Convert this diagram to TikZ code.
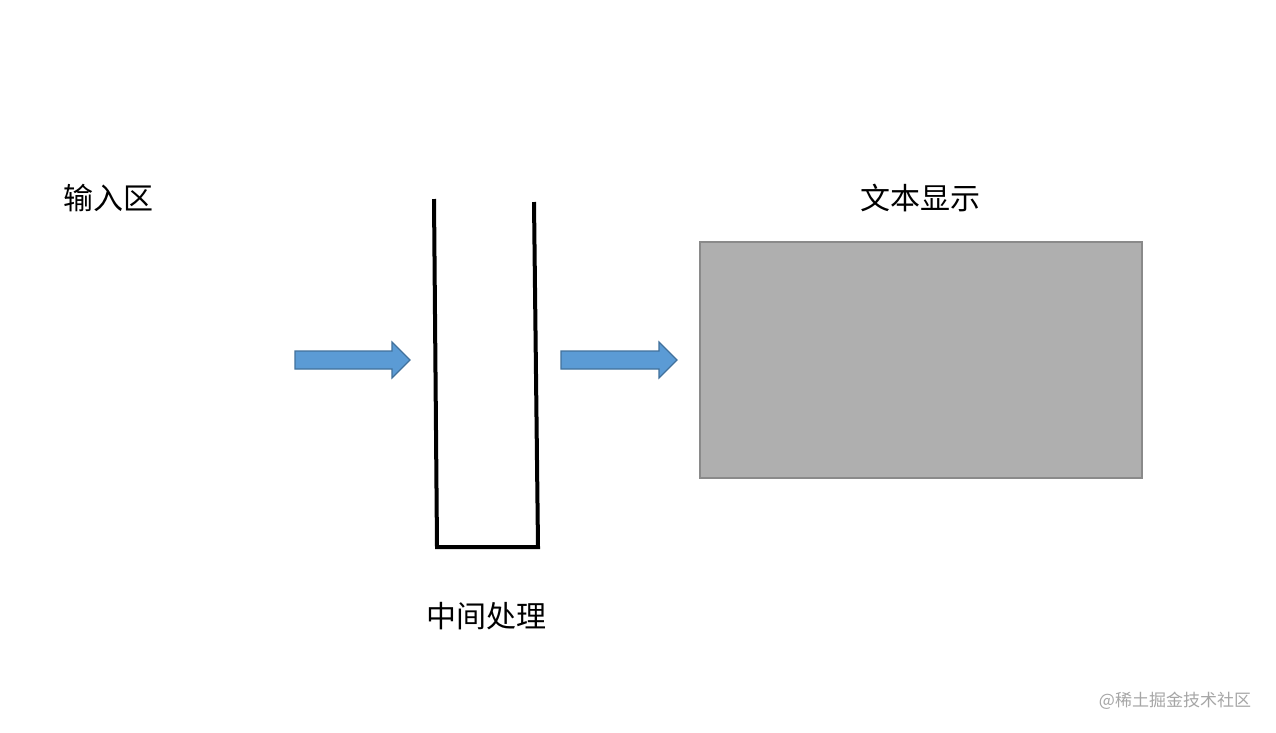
\documentclass[tikz,border=0pt]{standalone}
\usepackage{fontspec}
\newfontfamily\cjk{Noto Sans CJK SC}
\definecolor{arrowfill}{HTML}{5B9BD5}
\definecolor{arrowline}{HTML}{41719C}
\definecolor{boxfill}{HTML}{AFAFAF}
\definecolor{boxline}{HTML}{8A8A8A}
\begin{document}
\begin{tikzpicture}[x=1pt,y=-1pt,
  lbl/.style={font=\cjk\fontsize{30}{34}\selectfont, inner sep=0pt},
  blockarrow/.style={fill=arrowfill, draw=arrowline, line width=1.2pt, line join=miter}]
\useasboundingbox[fill=white] (0,0) rectangle (1276,732);
\node[lbl] (in) at (108,198) {输入区};
\node[lbl] (disp) at (920,198) {文本显示};
\node[lbl] (mid) at (486,616) {中间处理};
\draw[blockarrow] (295,351) -- (392,351) -- (392,342) -- (410,360) -- (392,378) -- (392,369) -- (295,369) -- cycle;
\draw[blockarrow] (561,351) -- (659,351) -- (659,342) -- (677,360) -- (659,378) -- (659,369) -- (561,369) -- cycle;
\draw[line width=4pt, line join=miter] (434,199) -- (437,547) -- (538,547) -- (534,202);
\node[draw=boxline, fill=boxfill, line width=1.5pt, minimum width=442pt, minimum height=236pt, inner sep=0pt] (box) at (921,360) {};
\node[font=\cjk\fontsize{17}{20}\selectfont, text=gray!70, inner sep=0pt] (wm) at (1175,701) {@稀土掘金技术社区};
\end{tikzpicture}
\end{document}
